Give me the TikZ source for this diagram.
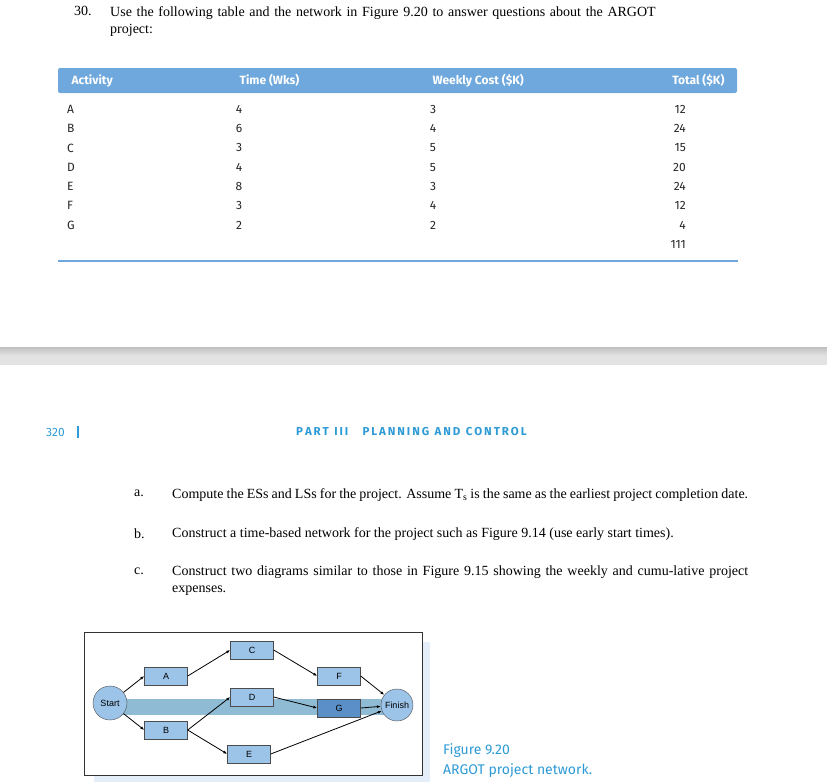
\documentclass[tikz,border=0pt]{standalone}
\usepackage{fontspec}
\setmainfont{Liberation Serif}
\newfontfamily\hsans{Fira Sans}
\newfontfamily\tsans{Liberation Sans}
\usetikzlibrary{arrows.meta}
\definecolor{hb}{HTML}{6FA8DC}
\definecolor{nb}{HTML}{9CC3E8}
\definecolor{nd}{HTML}{5B8FC7}
\definecolor{band}{HTML}{8FBCD4}
\definecolor{ttl}{HTML}{2E9BD6}
\definecolor{shd}{HTML}{E3EEF8}
\tikzset{box/.style={draw=black!70,fill=nb,minimum width=43pt,minimum height=18pt,inner sep=0pt,font=\tsans\fontsize{9}{10}\selectfont},
circ/.style={draw=black!70,fill=nb,circle,minimum size=34pt,inner sep=0pt,font=\tsans\fontsize{9}{10}\selectfont},
ar/.style={-{Latex[length=4pt,width=3pt]},thick},
hd/.style={text=white,font=\hsans\bfseries\fontsize{12}{14}\selectfont},
cell/.style={font=\hsans\fontsize{12}{14}\selectfont,inner sep=0pt,text=black!85},
q/.style={font=\fontsize{14}{17}\selectfont,anchor=north west,align=justify,inner sep=0pt}}
\begin{document}
\begin{tikzpicture}[x=1pt,y=-1pt]
\useasboundingbox (0,0) rectangle (827,782);
\fill[white] (0,0) rectangle (827,782);
% question
\node[q] (q30) at (74,6) {30.};
\node[q,text width=620pt,align=left] (qt) at (110,6) {Use the following table and the network in Figure 9.20 to answer questions about the ARGOT\\project:};
% table
\fill[hb,rounded corners=2pt] (58,68) rectangle (737,93);
\node[hd,anchor=west] (h1) at (68,80.5) {Activity};
\node[hd,anchor=west] (h2) at (236,80.5) {Time (Wks)};
\node[hd,anchor=west] (h3) at (429,80.5) {Weekly Cost (\$K)};
\node[hd,anchor=east] (h4) at (728,80.5) {Total (\$K)};
\draw[hb,line width=2.5pt] (58,261) -- (738,261);
\foreach \a/\t/\w/\s [count=\i] in {A/4/3/12,B/6/4/24,C/3/5/15,D/4/5/20,E/8/3/24,F/3/4/12,G/2/2/4}{
  \node[cell,anchor=west] at (67,90+19.3*\i) {\a};
  \node[cell] at (239,90+19.3*\i) {\t};
  \node[cell] at (433,90+19.3*\i) {\w};
  \node[cell,anchor=east] at (686,90+19.3*\i) {\s};
}
\node[cell,anchor=east] (tot) at (686,244) {111};
% gray band
\shade[top color=black!25,bottom color=black!10] (0,347) rectangle (827,356);
\fill[black!11] (0,356) rectangle (827,365);
% header line
\node[anchor=west,text=ttl,font=\hsans\fontsize{12}{14}\selectfont,inner sep=0pt] (pg) at (46,432) {320};
\fill[ttl] (77,426) rectangle (79,438);
\node[anchor=west,text=ttl,font=\hsans\bfseries\fontsize{11.5}{14}\selectfont,inner sep=0pt] (part) at (296,432) {P\,A\,R\,T\ \ I\,I\,I\quad\ P\,L\,A\,N\,N\,I\,N\,G\ \ A\,N\,D\ \ C\,O\,N\,T\,R\,O\,L};
% subquestions
\node[q] (la) at (134,490) {a.};
\node[q,text width=576pt] (ta) at (172,488) {Compute the ESs and LSs for the project. Assume T\textsubscript{s} is the same as the earliest project completion date.};
\node[q] (lb) at (134,529) {b.};
\node[q,text width=576pt] (tb) at (172,527) {Construct a time-based network for the project such as Figure 9.14 (use early start times).};
\node[q] (lc) at (134,568) {c.};
\node[q,text width=576pt] (tc) at (172,566) {Construct two diagrams similar to those in Figure 9.15 showing the weekly and cumu-lative project expenses.};
% network
\fill[shd] (94,642) rectangle (430,782);
\draw[black!80,fill=white,line width=0.8pt] (84,632) rectangle (422,775);
\fill[band] (115,699) rectangle (392,715);
\node[circ] (S) at (110,703) {Start};
\node[circ,minimum size=32pt] (Fi) at (397,705) {Finish};
\node[box] (A) at (166,676) {A};
\node[box] (B) at (166,730) {B};
\node[box] (C) at (252,650) {C};
\node[box] (D) at (252,697) {D};
\node[box] (E) at (249,754) {E};
\node[box] (F) at (339,676) {F};
\node[box,fill=nd] (G) at (339,708) {G};
\draw[ar] (S) -- (A.west);
\draw[ar] (S) -- (B.west);
\draw[ar] (A.east) -- (C.west);
\draw[ar] (B.east) -- (D.west);
\draw[ar] (B.east) -- (E.west);
\draw[ar] (C.east) -- (F.west);
\draw[ar] (D.east) -- (G.west);
\draw[ar] (F.east) -- (Fi);
\draw[ar] (G.east) -- (Fi);
\draw[ar] (E.east) -- (Fi);
% caption
\node[anchor=west,text=ttl,font=\hsans\fontsize{14}{16}\selectfont,inner sep=0pt] (cap1) at (443,751) {Figure 9.20};
\node[anchor=west,text=ttl,font=\hsans\fontsize{14}{16}\selectfont,inner sep=0pt] (cap2) at (443,771) {ARGOT project network.};
\end{tikzpicture}
\end{document}
